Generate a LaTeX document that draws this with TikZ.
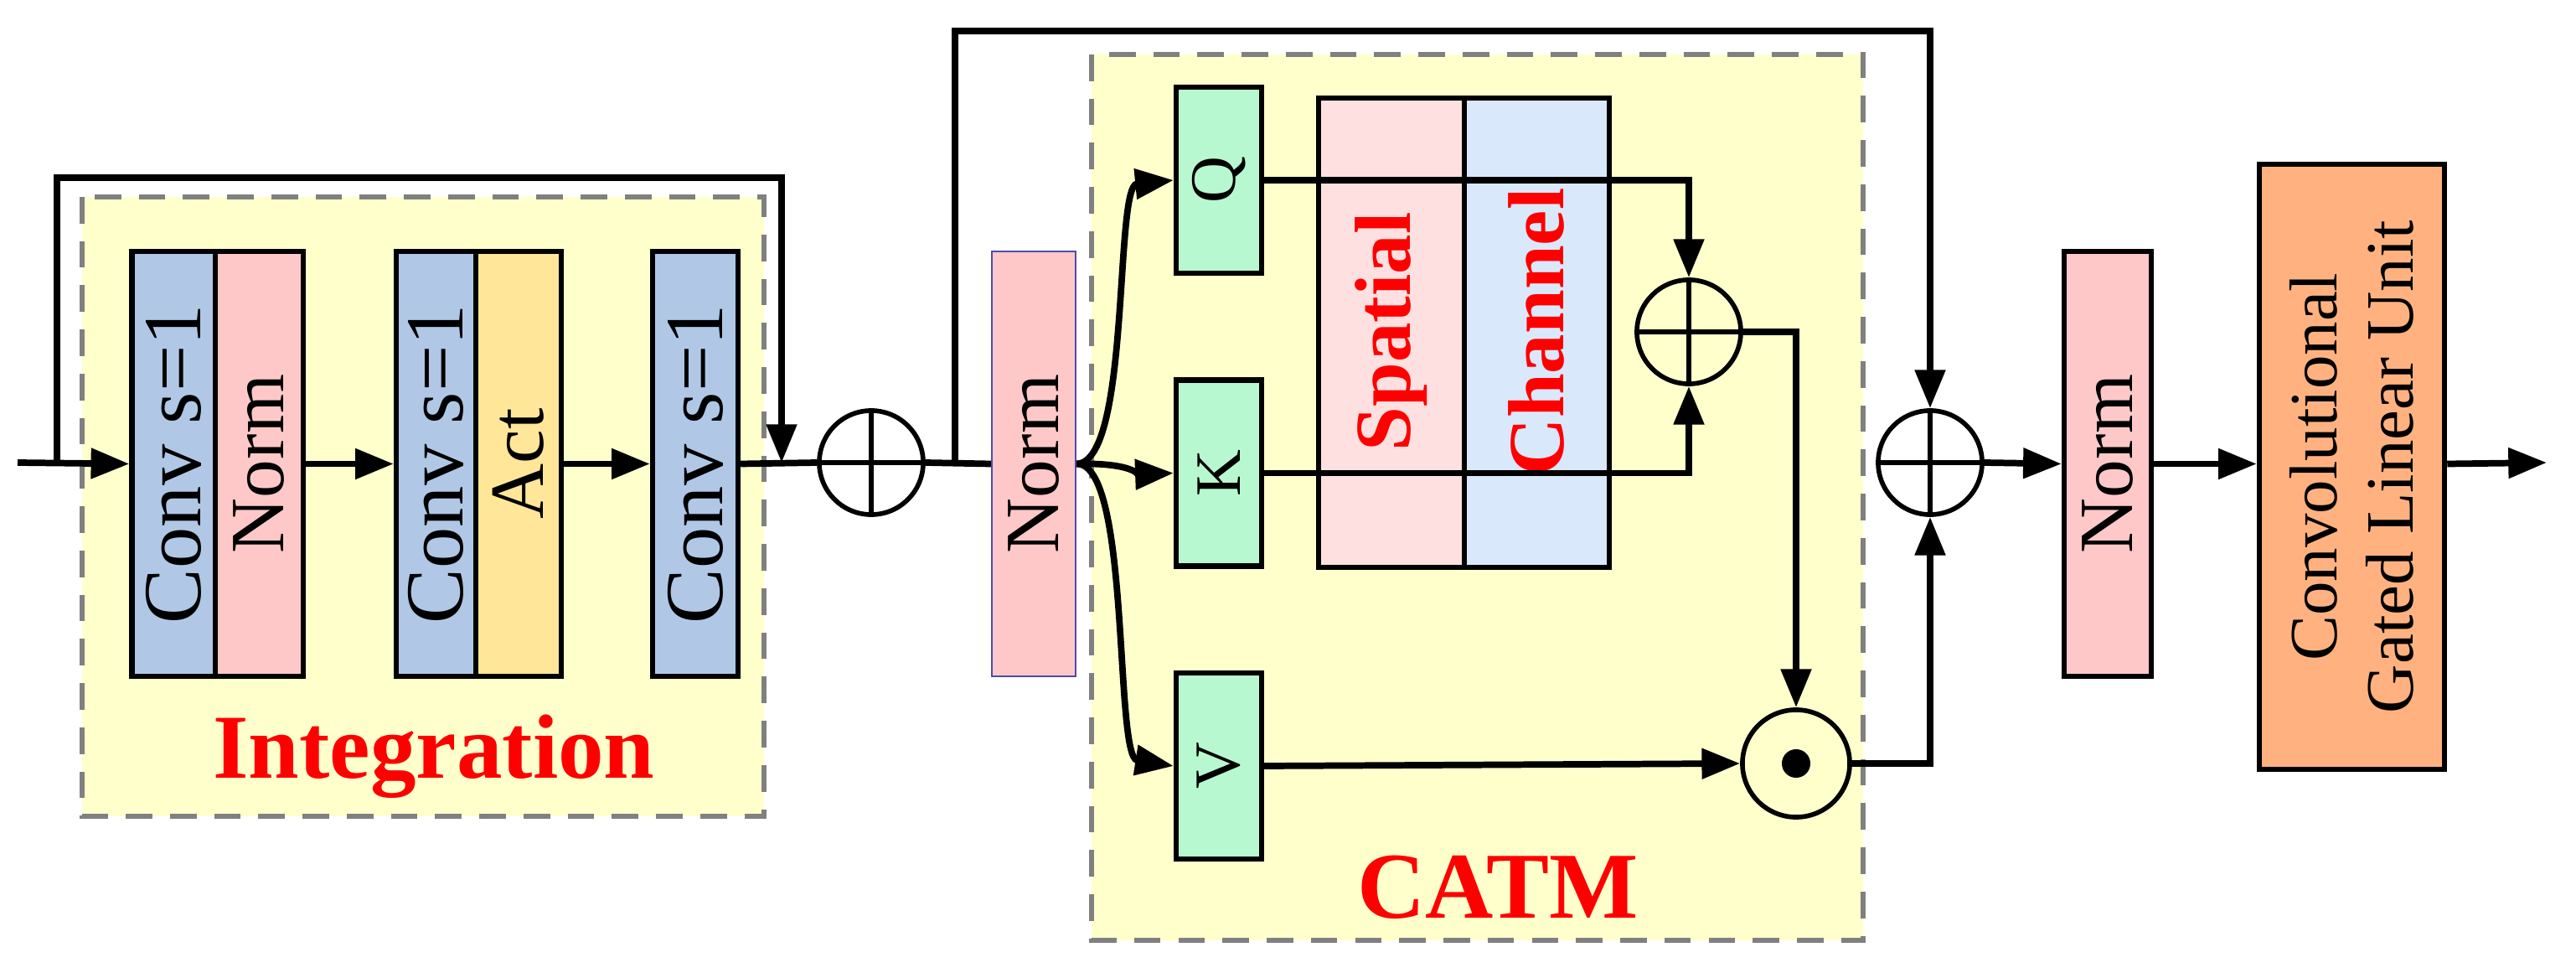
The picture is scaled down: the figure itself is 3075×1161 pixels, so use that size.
\documentclass[tikz,border=0pt]{standalone}
\usepackage{fontspec}
\setmainfont{Liberation Serif}
\usetikzlibrary{arrows.meta,positioning,calc}
\definecolor{convblu}{HTML}{B0C8E6}
\definecolor{normpink}{HTML}{FFC8C8}
\definecolor{actyel}{HTML}{FFE699}
\definecolor{qkvgrn}{HTML}{B8F8D0}
\definecolor{bgyel}{HTML}{FFFFCC}
\definecolor{spapink}{HTML}{FFE0E0}
\definecolor{chablu}{HTML}{DAE8FC}
\definecolor{glorange}{HTML}{FFB280}
\tikzset{
  blk/.style={draw, line width=1.8pt, rotate=90, inner sep=0pt, minimum height=1cm, minimum width=5.07cm, font=\fontsize{28}{30}\selectfont},
  thinblk/.style={blk, font=\fontsize{26}{28}\selectfont},
  qkv/.style={draw, line width=1.8pt, rotate=90, inner sep=0pt, minimum height=1.02cm, minimum width=2.22cm, fill=qkvgrn, font=\fontsize{22}{24}\selectfont},
  ln/.style={line width=2.2pt},
  arr/.style={ln, -{Triangle[length=13pt,width=10pt]}},
  plus/.style={circle, draw, line width=1.6pt, minimum size=1.24cm, inner sep=0pt,
    path picture={\draw[line width=1.6pt] (path picture bounding box.north) -- (path picture bounding box.south)
      (path picture bounding box.west) -- (path picture bounding box.east);}},
  dotp/.style={circle, draw, line width=1.6pt, minimum size=1.28cm, inner sep=0pt,
    path picture={\fill (path picture bounding box.center) circle (0.17cm);}},
  grp/.style={draw=gray, fill=bgyel, dashed, dash pattern=on 9pt off 6pt, line width=1.8pt},
  ttl/.style={text=red, font=\bfseries\fontsize{31}{33}\selectfont}
}
\begin{document}
\begin{tikzpicture}[x=0.01cm,y=-0.01cm]
\useasboundingbox (0,0) rectangle (3075,1161);

% group frames
\draw[grp] (98,235) rectangle (912,974);
\draw[grp] (1303,65) rectangle (2224,1122);

% integration
\node[blk, fill=convblu] (conv1) at (207.5,553.5) {Conv s=1};
\node[thinblk, fill=normpink, minimum height=1.05cm] (norm1) at (309.5,553.5) {Norm};
\node[blk, fill=convblu, minimum height=0.95cm] (conv2) at (520.5,553.5) {Conv s=1};
\node[thinblk, fill=actyel, minimum height=1.02cm] (act) at (619,553.5) {Act};
\node[blk, fill=convblu, minimum height=1.02cm] (conv3) at (830,553.5) {Conv s=1};
\node[ttl] (integ) at (518,903) {Integration};

\coordinate (in) at (21,552);
\coordinate (skipa) at (68,552);
\coordinate (skipb) at (933,552);
\draw[arr] (in) -- (conv1.north);
\draw[arr] (norm1.south) -- (conv2.north);
\draw[arr] (act.south) -- (conv3.north);
\draw[arr] (skipa) -- (68,212) -- (933,212) -- (skipb);

\node[plus] (add1) at (1040,552) {};
\draw[ln] (conv3.south) -- (add1.west);

% attention
\node[thinblk, draw=blue!40!gray, line width=0.6pt, fill=normpink] (norm2) at (1234,553.5) {Norm};
\draw[ln] (add1.east) -- (norm2.north);
\coordinate (br) at (1140,552);

\node[draw, line width=1.8pt, fill=spapink, minimum width=1.74cm, minimum height=5.6cm, inner sep=0pt] (spa) at (1661,397) {};
\node[draw, line width=1.8pt, fill=chablu, minimum width=1.73cm, minimum height=5.6cm, inner sep=0pt] (cha) at (1834.5,397) {};
\node[rotate=90, text=red, font=\bfseries\fontsize{27}{29}\selectfont] (spat) at (1661,396) {Spatial};
\node[rotate=90, text=red, font=\bfseries\fontsize{27}{29}\selectfont] (chan) at (1834.5,396) {Channel};

\node[qkv] (q) at (1455,215) {Q};
\node[qkv] (k) at (1455,564.5) {K};
\node[qkv] (v) at (1455,914) {V};
\node[ttl, font=\bfseries\fontsize{32}{34}\selectfont] (catm) at (1788,1059) {CATM};

\draw[arr] (norm2.south) .. controls (1350,552) and (1330,222) .. (q.north);
\draw[arr] (norm2.south) .. controls (1350,552) and (1360,566) .. (k.north);
\draw[arr] (norm2.south) .. controls (1350,552) and (1330,903) .. (v.north);

\node[plus] (add3) at (2016,396) {};
\node[dotp] (mul) at (2144,911) {};
\draw[arr] (q.south) -- (add3.north |- q.south) -- (add3.north);
\draw[arr] (k.south) -- (add3.south |- k.south) -- (add3.south);
\draw[arr] (add3.east) -- (mul.north |- add3.east) -- (mul.north);
\draw[arr] (v.south) -- (mul.west);

% output
\node[plus] (add2) at (2304,552) {};
\draw[arr] (br) -- (1140,37) -- (2304,37) -- (add2.north);
\draw[arr] (mul.east) -- (add2.south |- mul.east) -- (add2.south);

\node[thinblk, fill=normpink, minimum height=1.04cm] (norm3) at (2516,553.5) {Norm};
\node[draw, line width=1.8pt, fill=glorange, rotate=90, minimum width=7.22cm, minimum height=2.21cm, align=center, font=\fontsize{23}{26}\selectfont] (glu) at (2807.5,557) {Convolutional\\Gated Linear Unit};
\coordinate (out) at (3040,552);
\draw[arr] (add2.east) -- (norm3.north);
\draw[arr] (norm3.south) -- (glu.north |- norm3.south);
\draw[arr] (glu.south |- norm3.south) -- (out);
\end{tikzpicture}
\end{document}
